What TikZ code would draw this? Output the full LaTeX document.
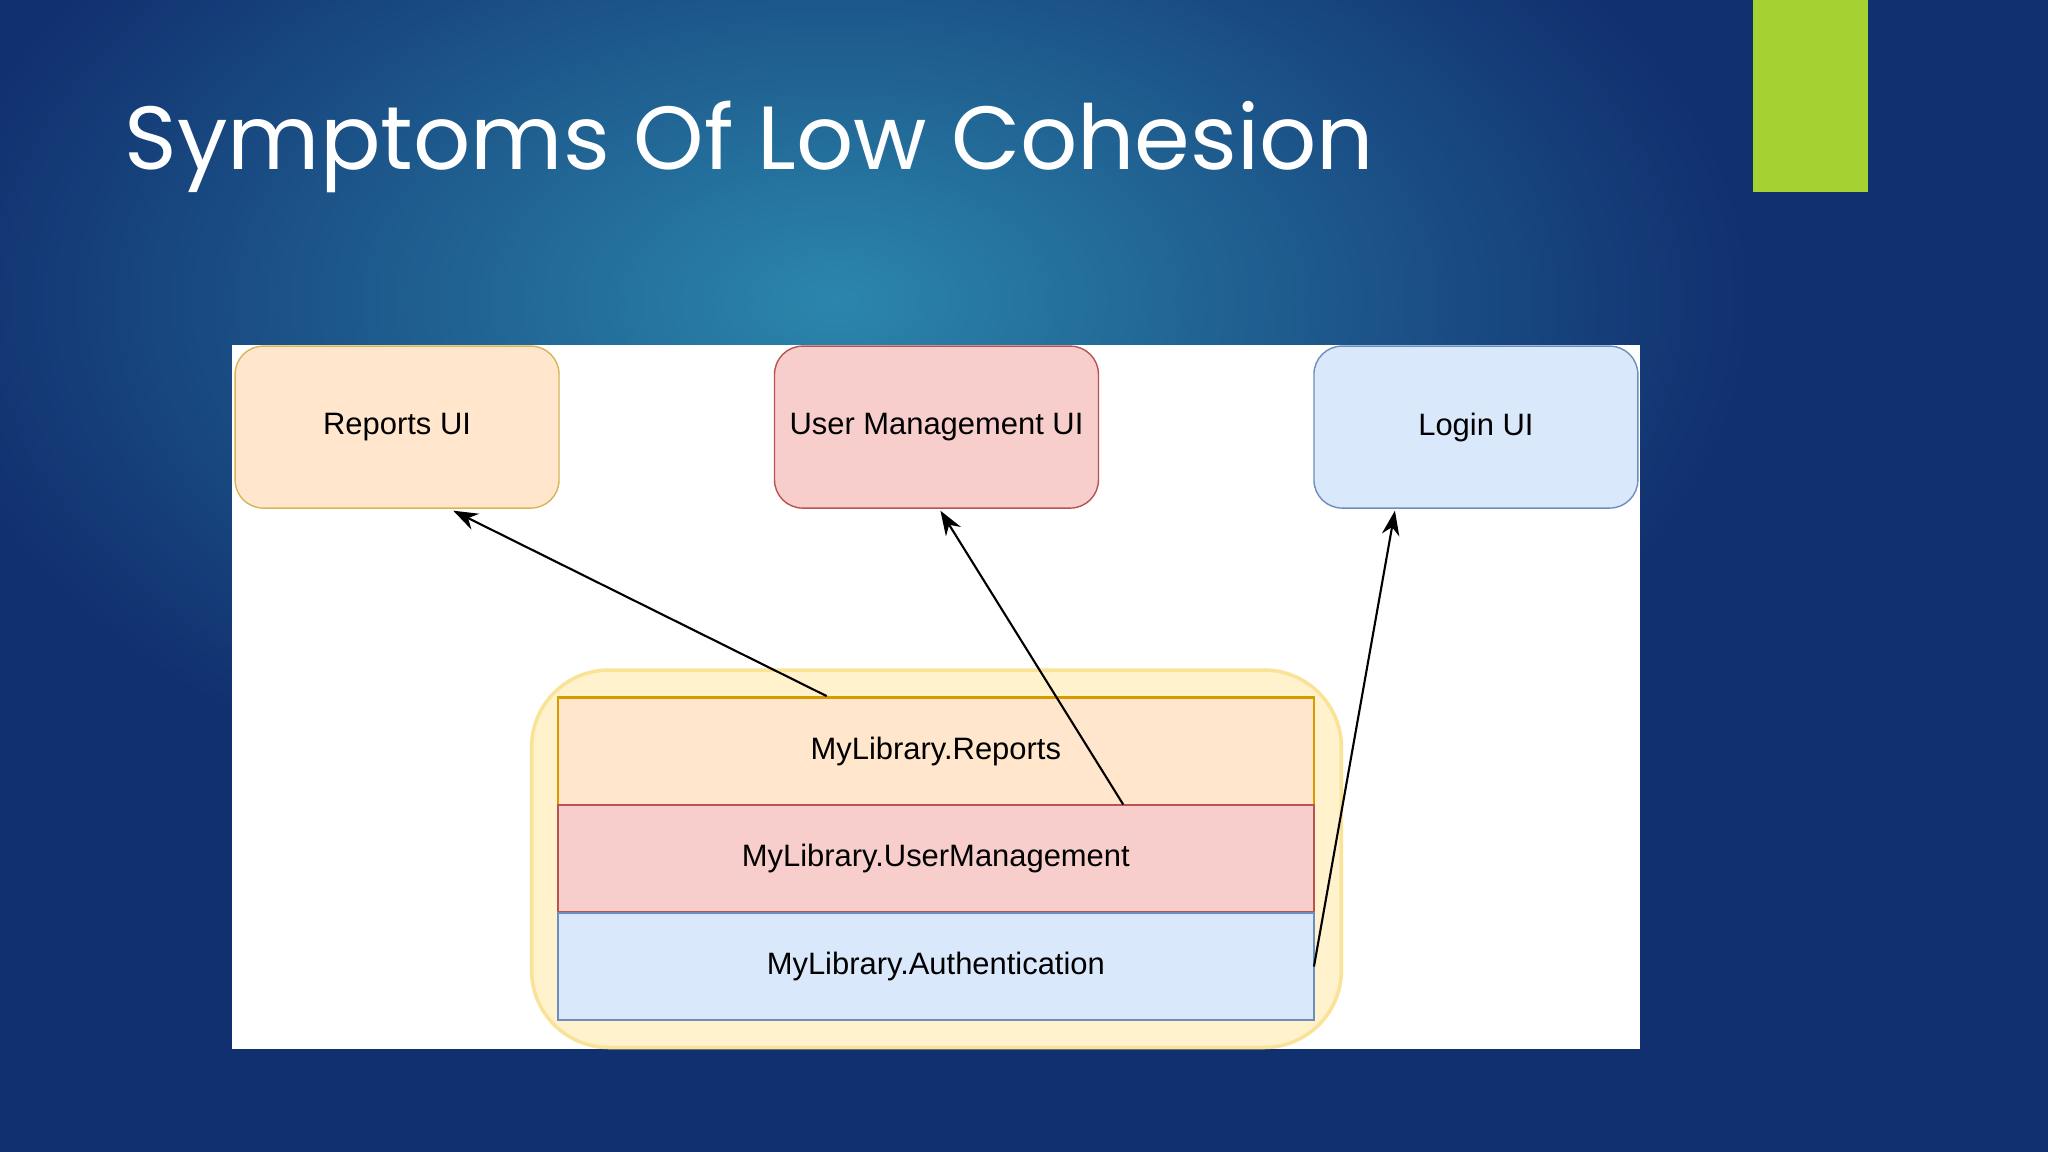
\documentclass[tikz,border=0pt]{standalone}
\usepackage{fontspec}
\setmainfont{Liberation Sans}
\newfontfamily\titlefont{Poppins}
\usetikzlibrary{calc,arrows.meta}
\definecolor{bgdark}{HTML}{11306F}
\definecolor{bglight}{HTML}{2B86AC}
\newlength{\pxu}\setlength{\pxu}{0.013061cm}
\tikzset{
  box/.style={rounded corners=8pt, minimum width=248\pxu, minimum height=124\pxu, inner xsep=1pt, font=\fontsize{8.8}{10}\selectfont},
  row/.style={minimum width=579\pxu, minimum height=82\pxu, font=\fontsize{8.8}{10}\selectfont, line width=0.6pt},
  arr/.style={-{Stealth[length=7pt,width=5pt]}, line width=0.6pt}
}
\begin{document}
\begin{tikzpicture}[x=0.013061cm,y=-0.013061cm]
\useasboundingbox (0,0) rectangle (1568,882);
\fill[bgdark] (0,0) rectangle (1568,882);
\begin{scope}
\clip (0,0) rectangle (1568,882);
\shade[inner color=bglight, outer color=bgdark] (640,230) ellipse [x radius=700, y radius=420];
\end{scope}
\fill[fill={rgb,255:red,166;green,209;blue,51}] (1342,0) rectangle (1430,147);
\node[anchor=base west, text=white, font=\titlefont\fontsize{25.5}{30}\selectfont, inner sep=0] (title) at (95,130) {Symptoms Of Low Cohesion};
\fill[white] (178,264) rectangle (1256,803);
\node[box, fill={rgb,255:red,255;green,230;blue,204}, draw={rgb,255:red,214;green,182;blue,86}] (rui) at (304,327) {Reports UI};
\node[box, fill={rgb,255:red,248;green,206;blue,204}, draw={rgb,255:red,184;green,84;blue,80}] (uui) at (717,327) {User Management UI};
\node[box, fill={rgb,255:red,218;green,232;blue,252}, draw={rgb,255:red,108;green,142;blue,191}] (lui) at (1130,327) {Login UI};
\node[rounded corners=22pt, minimum width=620\pxu, minimum height=289\pxu, fill={rgb,255:red,255;green,242;blue,204}, draw={rgb,255:red,250;green,226;blue,150}, line width=1pt] (cont) at (717,657.5) {};
\node[row, fill={rgb,255:red,255;green,230;blue,204}, draw={rgb,255:red,215;green,155;blue,0}] (rep) at (716.5,575) {MyLibrary.Reports};
\node[row, fill={rgb,255:red,248;green,206;blue,204}, draw={rgb,255:red,184;green,84;blue,80}] (usr) at (716.5,657.5) {MyLibrary.UserManagement};
\node[row, fill={rgb,255:red,218;green,232;blue,252}, draw={rgb,255:red,108;green,142;blue,191}] (aut) at (716.5,740) {MyLibrary.Authentication};
\coordinate (a1) at (633,533);
\coordinate (a2) at (860,616);
\coordinate (a3) at (1006,740);
\coordinate (t1) at (347,391);
\coordinate (t2) at (720,391);
\coordinate (t3) at (1068,391);
\draw[arr] (a1) -- (t1);
\draw[arr] (a2) -- (t2);
\draw[arr] (a3) -- (t3);
\end{tikzpicture}
\end{document}
